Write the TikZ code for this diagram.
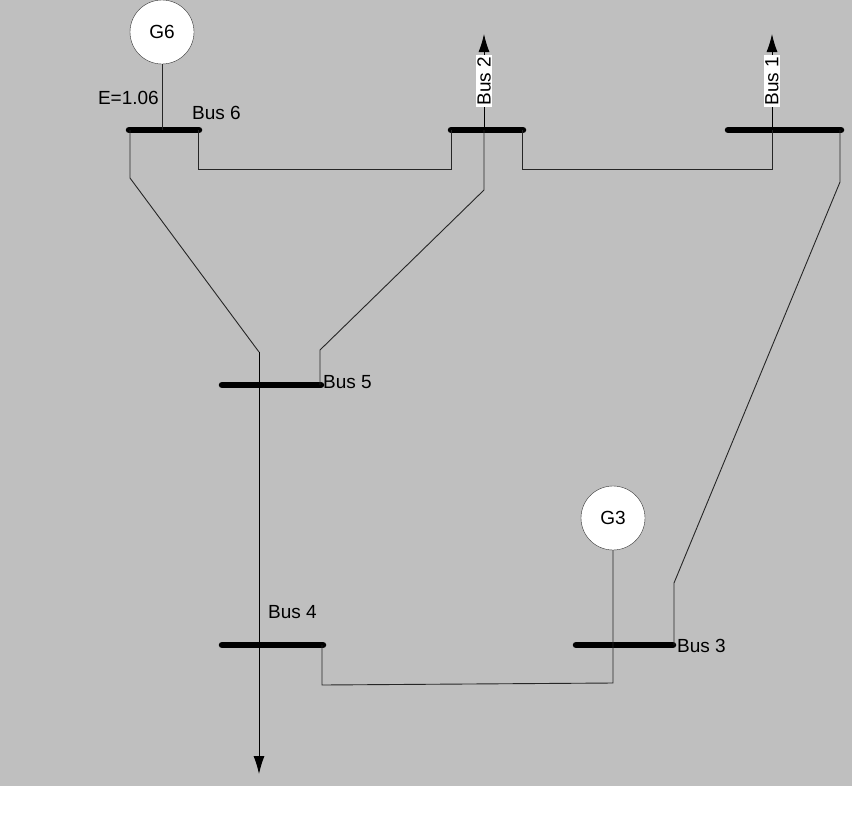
\documentclass[tikz,border=0pt]{standalone}
\usepackage{fontspec}
\setmainfont{Liberation Sans}
\usetikzlibrary{arrows.meta}
\begin{document}
\begin{tikzpicture}[x=1pt,y=-1pt,
  bus/.style={line width=6.5pt,line cap=round},
  ln/.style={line width=0.9pt,draw=black!85},
  gen/.style={circle,draw=black!80,fill=white,minimum size=64pt,inner sep=0pt,font=\fontsize{19}{19}\selectfont},
  lbl/.style={font=\fontsize{19}{19}\selectfont,inner sep=1pt},
  ld/.style={ln,draw=black,-{Latex[length=18pt,width=11pt]}}]
\useasboundingbox (0,0) rectangle (854,820);
\fill[white] (0,0) rectangle (854,820);
\fill[black!25] (0,0) rectangle (852,786);
% buses
\draw[bus] (129,130) -- (199,130);
\draw[bus] (451,130) -- (523,130);
\draw[bus] (728,130) -- (841,130);
\draw[bus] (222,385) -- (321,385);
\draw[bus] (222,645) -- (323,645);
\draw[bus] (576,645) -- (673,645);
% generators
\node[gen] (g6) at (162,32) {G6};
\node[gen] (g3) at (613,518) {G3};
\coordinate (b6g) at (162,130);
\coordinate (b3g) at (613,645);
\draw[ln] (g6) -- (b6g);
\draw[ln] (g3) -- (b3g) -- (613,683) -- (322,685) -- (322,645);
% lines
\draw[ln] (198,130) -- (198,169) -- (451,169) -- (451,130);
\draw[ln] (522,130) -- (522,169) -- (772,169) -- (772,130);
\draw[ln] (130,130) -- (130,178) -- (259,352);
\draw[ln] (484,130) -- (484,190) -- (320,350) -- (320,385);
\draw[ln] (840,130) -- (840,182) -- (674,583) -- (674,645);
% loads
\coordinate (l2) at (484,34);
\coordinate (l1) at (772,34);
\coordinate (l4) at (259,774);
\draw[ld] (484,130) -- (l2);
\draw[ld] (772,130) -- (l1);
\draw[ld] (259,352) -- (l4);
\node[lbl,fill=white,rotate=90,inner sep=1.5pt] (t2) at (484,81) {Bus 2};
\node[lbl,fill=white,rotate=90,inner sep=1.5pt] (t1) at (772,81) {Bus 1};
% labels
\node[lbl,anchor=west] (t6) at (191,113) {Bus 6};
\node[lbl,anchor=east] (te) at (160,98) {E=1.06};
\node[lbl,anchor=west] (t5) at (322,382) {Bus 5};
\node[lbl,anchor=west] (t4) at (267,612) {Bus 4};
\node[lbl,anchor=west] (t3) at (676,646) {Bus 3};
\end{tikzpicture}
\end{document}
